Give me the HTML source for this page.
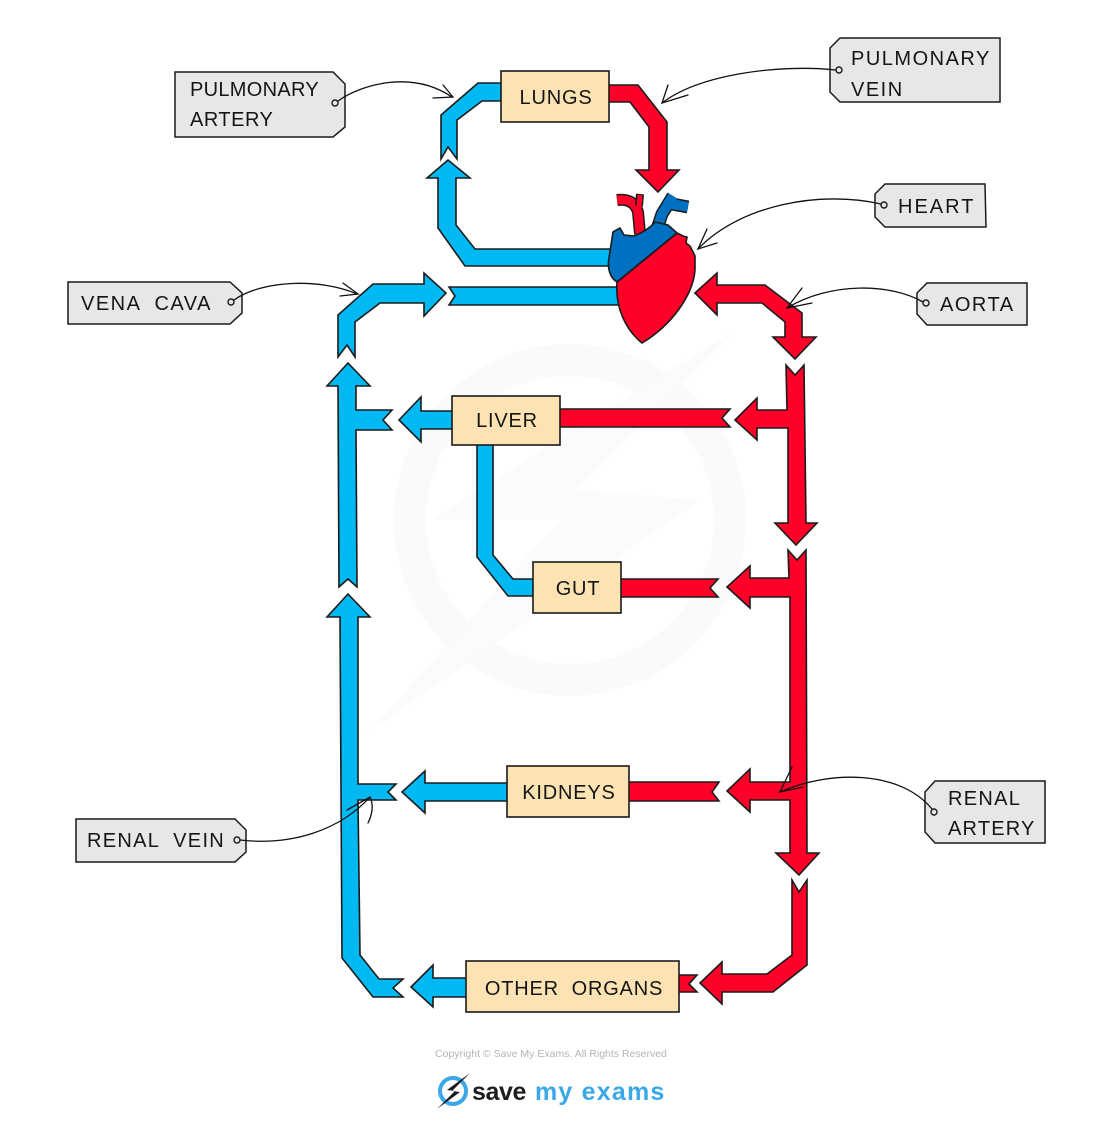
<!DOCTYPE html>
<html><head><meta charset="utf-8"><style>
html,body{margin:0;padding:0;background:#fff;}
svg{display:block;}
text{font-family:"Liberation Sans",sans-serif;fill:#151515;}
</style></head><body>
<svg width="1100" height="1130" viewBox="0 0 1100 1130" xmlns="http://www.w3.org/2000/svg">
<rect width="1100" height="1130" fill="#fff"/>
<!-- watermark -->
<g opacity="0.35">
<circle cx="570" cy="520" r="160" fill="none" stroke="#eef3f8" stroke-width="32"/>
<polygon points="735,330 430,520 560,520 365,735 700,500 575,490" fill="#f1f5f9"/>
</g>

<g stroke="#1a1a1a" stroke-width="1.6" stroke-linejoin="miter">
<!-- BLUE bands -->
<polygon fill="#00b9f2" points="630,249 475,249 456,225 456,178 470,178 448,160 427,178 438,178 438,228 465,266 630,266"/>
<polygon fill="#00b9f2" points="441,159 448,147 457,159 457,120 482,101 505,101 505,83 478,83 441,115"/>
<polygon fill="#00b9f2" points="449,287 625,287 625,305 449,305 455,296"/>
<polygon fill="#00b9f2" points="338,357 338,315 373,284 424,284 424,273 446,293 424,316 424,303 380,303 355,322 355,357 347,345"/>
<polygon fill="#00b9f2" points="348,363 370,386 356,386 356,410 392,410 383,420 392,430 356,430 357,587 348,579 339,587 338,386 327,386"/>
<polygon fill="#00b9f2" points="399,420 421,397 421,411 455,411 455,429 421,429 421,442"/>
<polygon fill="#00b9f2" points="348,594 370,617 358,617 358,784 396,784 388,792 396,800 358,800 360,955 379,979 403,979 393,988 403,997 373,997 342,958 340,617 327,617"/>
<polygon fill="#00b9f2" points="402,792 425,771 425,783 510,783 510,801 425,801 425,813"/>
<polygon fill="#00b9f2" points="411,987 433,965 433,978 468,978 468,997 433,997 433,1007"/>
<polygon fill="#00b9f2" points="477,440 493,440 493,555 513,579 535,579 535,596 508,596 477,557"/>

<!-- RED bands -->
<polygon fill="#ff0028" points="607,85 638,85 667,122 667,170 679,170 658,192 636,170 649,170 649,127 630,102 607,102"/>
<polygon fill="#ff0028" points="695,293 717,273 717,285 765,285 802,313 802,337 816,337 795,359 773,337 785,337 785,322 762,303 717,303 717,315"/>
<polygon fill="#ff0028" points="786,365 795,375 804,365 806,523 817,523 796,545 775,523 788,523 788,428 757,428 757,440 735,420 757,398 757,410 787,410"/>
<polygon fill="#ff0028" points="558,409 730,409 722,418 730,427 558,427"/>
<polygon fill="#ff0028" points="788,550 797,560 806,550 807,853 819,853 799,875 776,853 790,853 790,800 750,800 750,812 727,791 750,769 750,782 790,782 790,597 750,597 750,608 727,587 750,566 750,578 789,578"/>
<polygon fill="#ff0028" points="619,579 718,579 710,588 718,597 619,597"/>
<polygon fill="#ff0028" points="627,782 719,782 712,792 719,801 627,801"/>
<polygon fill="#ff0028" points="792,880 799,892 807,880 807,965 773,992 722,992 722,1004 700,983 722,962 722,974 767,974 792,955"/>
<polygon fill="#ff0028" points="677,975 697,975 689,984 697,992 677,992"/>
</g>

<!-- HEART -->
<g stroke-linejoin="round" stroke-linecap="butt">
<path d="M640,234 L638,212 Q634,198 617,200" fill="none" stroke="#1a1a1a" stroke-width="12"/>
<path d="M640,234 L638,212 Q634,198 617,200" fill="none" stroke="#ff0028" stroke-width="9"/>
<path d="M639,206 L640,194" fill="none" stroke="#1a1a1a" stroke-width="8"/>
<path d="M639,208 L640,195" fill="none" stroke="#ff0028" stroke-width="5"/>
<path d="M655,235 L662,214 L673,196 M672,204 L688,207" fill="none" stroke="#1a1a1a" stroke-width="13"/>
<path d="M655,235 L662,214 L673,196 M672,204 L688,207" fill="none" stroke="#0070c0" stroke-width="10"/>
<path d="M677,233 L683,236 L687,237 L686,243 L690,246 L695,256 L695,270 C693,295 672,325 642,343 C626,330 615,308 617,282 Z" fill="#ff0028" stroke="#1a1a1a" stroke-width="1.6"/>
<path d="M613,232 L620,228 L624,235 L634,236 C644,232 650,228 655,222 L668,225 L677,233 L617,282 C610,278 607,268 609,258 Z" fill="#0070c0" stroke="#1a1a1a" stroke-width="1.6"/>
<path d="M677,233 L617,282" stroke="#1a1a1a" stroke-width="1.6"/>
</g>

<!-- BOXES -->
<g fill="#fde3b3" stroke="#1a1a1a" stroke-width="1.6">
<rect x="501" y="71" width="108" height="51"/>
<rect x="452" y="396" width="108" height="49"/>
<rect x="533" y="562" width="88" height="51"/>
<rect x="507" y="766" width="122" height="51"/>
<rect x="466" y="961" width="213" height="51"/>
</g>
<g font-size="20" text-anchor="middle" letter-spacing="0.8">
<text x="556" y="104">LUNGS</text>
<text x="507" y="427">LIVER</text>
<text x="578" y="595">GUT</text>
<text x="569" y="799">KIDNEYS</text>
<text x="574" y="995" xml:space="preserve">OTHER  ORGANS</text>
</g>

<!-- TAGS -->
<g fill="#e7e7e7" stroke="#1a1a1a" stroke-width="1.5">
<polygon points="175,72 333,72 345,84 345,127 333,137 175,137"/>
<polygon points="840,38 1000,38 1000,102 840,102 830,92 830,48"/>
<polygon points="885,184 985,184 986,227 885,227 875,217 875,194"/>
<polygon points="68,282 230,282 242,293 242,313 230,324 68,324"/>
<polygon points="927,283 1027,283 1027,325 927,325 917,314 917,293"/>
<polygon points="76,819 235,819 246,830 246,852 235,862 76,862"/>
<polygon points="935,781 1045,781 1045,843 935,843 925,832 925,792"/>
</g>
<g fill="none" stroke="#1a1a1a" stroke-width="1.4">
<circle cx="335" cy="103" r="3"/>
<circle cx="839" cy="70" r="3"/>
<circle cx="884" cy="205" r="3"/>
<circle cx="231" cy="302" r="3"/>
<circle cx="926" cy="303" r="3"/>
<circle cx="237" cy="840" r="3"/>
<circle cx="934" cy="812" r="3"/>
</g>
<g font-size="20">
<text x="190" y="96" letter-spacing="0.3">PULMONARY</text>
<text x="190" y="126" letter-spacing="0.5">ARTERY</text>
<text x="851" y="65" letter-spacing="1.5">PULMONARY</text>
<text x="851" y="96" letter-spacing="1.5">VEIN</text>
<text x="898" y="213" letter-spacing="2">HEART</text>
<text x="81" y="310" letter-spacing="1.5" xml:space="preserve">VENA  CAVA</text>
<text x="940" y="311" letter-spacing="1.5">AORTA</text>
<text x="87" y="847" letter-spacing="1.3" xml:space="preserve">RENAL  VEIN</text>
<text x="948" y="805" letter-spacing="1.3">RENAL</text>
<text x="948" y="835" letter-spacing="1.2">ARTERY</text>
</g>

<!-- CONNECTORS -->
<g fill="none" stroke="#111" stroke-width="1.3" stroke-linecap="round">
<path d="M338,101 C362,84 412,70 452,97"/>
<path d="M443,85 L453,97 L433,98"/>
<path d="M836,70 C780,64 700,74 662,103"/>
<path d="M668,85 L662,103 L688,95"/>
<path d="M881,204 C820,190 740,205 698,249"/>
<path d="M707,229 L698,249 L717,243"/>
<path d="M234,300 C262,280 320,278 357,294"/>
<path d="M343,283 L358,294 L340,296"/>
<path d="M923,302 C890,283 830,282 787,308"/>
<path d="M802,288 L787,308 L812,303"/>
<path d="M240,840 C292,846 340,830 370,797"/>
<path d="M347,810 L370,797 C374,805 372,815 368,823"/>
<path d="M932,809 C900,770 830,770 780,792"/>
<path d="M792,767 L780,792 L803,787"/>
</g>

<!-- FOOTER -->
<text x="551" y="1057" font-size="10.5" text-anchor="middle" style="fill:#b4b4b4">Copyright © Save My Exams. All Rights Reserved</text>
<circle cx="453" cy="1091" r="13" fill="none" stroke="#3aa8e8" stroke-width="4"/>
<polygon points="470,1073 447,1090 455,1091 437,1109 460,1092 452,1091" fill="#1a1a1a"/>
<text x="472" y="1100" font-size="25" font-weight="bold" letter-spacing="-0.4" style="fill:#1e1e1e">save</text>
<text x="535" y="1100" font-size="25" letter-spacing="1.2" style="fill:#3aa8e8;font-weight:bold">my exams</text>
</svg>
</body></html>
